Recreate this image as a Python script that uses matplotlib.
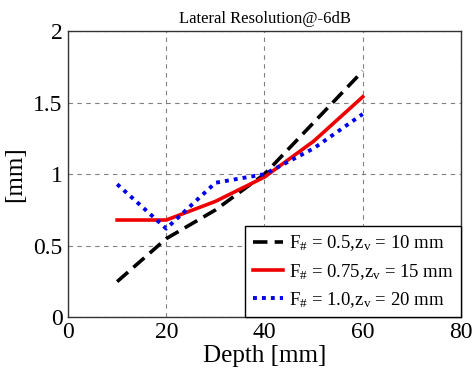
import matplotlib.pyplot as plt

plt.rcParams['font.family'] = 'Liberation Serif'
plt.rcParams['mathtext.fontset'] = 'custom'
plt.rcParams['mathtext.rm'] = 'Liberation Serif'
plt.rcParams['mathtext.it'] = 'Liberation Serif'

depth = [10, 20, 30, 40, 50, 60]
res_f05 = [0.25, 0.55, 0.75, 1.00, 1.36, 1.72]
res_f075 = [0.68, 0.68, 0.81, 0.98, 1.23, 1.54]
res_f10 = [0.93, 0.62, 0.94, 1.00, 1.18, 1.42]

labels = [r'F$_{\#}$ = 0.5,z$_{\mathrm{v}}$ = 10 mm',
          r'F$_{\#}$ = 0.75,z$_{\mathrm{v}}$ = 15 mm',
          r'F$_{\#}$ = 1.0,z$_{\mathrm{v}}$ = 20 mm']

fig = plt.figure(figsize=(4.74, 3.73), dpi=100)
ax = fig.add_axes([0.1435, 0.149, 0.829, 0.768])

ax.plot(depth, res_f05, color='black', linestyle=(0, (4, 2)), linewidth=2.6, label=labels[0])
ax.plot(depth, res_f075, color='#ee0000', linestyle='-', linewidth=2.6, label=labels[1])
ax.plot(depth, res_f10, color='#0000ee', linestyle=(0, (1, 1.3)), linewidth=2.8, label=labels[2])

ax.set_xlim(0, 80)
ax.set_ylim(0, 2)
ax.set_xticks([0, 20, 40, 60, 80])
ax.set_yticks([0, 0.5, 1, 1.5, 2])
ax.set_yticklabels(['0', '0.5', '1', '1.5', '2'])
ax.tick_params(labelsize=17, length=0)
ax.tick_params(axis='x', pad=3)
ax.tick_params(axis='y', pad=4)
ax.grid(True, color='gray', linestyle=(0, (4, 4)), linewidth=0.8)
for s in ax.spines.values():
    s.set_color('#333333')
    s.set_linewidth(1.0)

ax.set_title('Lateral Resolution@-6dB', fontsize=12, pad=6)
ax.set_xlabel('Depth [mm]', fontsize=18, labelpad=2)
ax.set_ylabel('[mm]', fontsize=18, labelpad=5)

leg = ax.legend(loc='lower right', fontsize=13.5, borderaxespad=0, fancybox=False,
                framealpha=1, edgecolor='black', handlelength=1.6, handletextpad=0.3,
                labelspacing=0.45, borderpad=0.4)
leg.get_frame().set_linewidth(1.0)

plt.savefig('out.png', dpi=100)
